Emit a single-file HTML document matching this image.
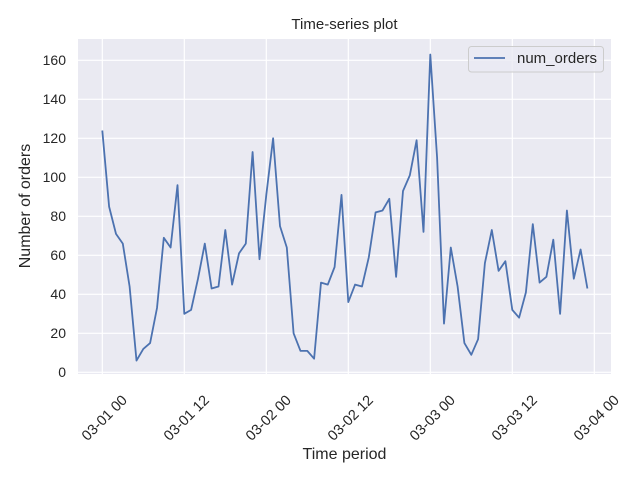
<!DOCTYPE html>
<html><head><meta charset="utf-8"><style>body{margin:0;background:#fff}svg{display:block}text{font-family:"Liberation Sans",sans-serif;fill:#262626}</style></head>
<body>
<svg width="640" height="480" viewBox="0 0 640 480" xmlns="http://www.w3.org/2000/svg">
<rect x="78" y="39" width="533" height="335" fill="#eaeaf2"/>
<g stroke="#fff" stroke-width="1.2">
<line x1="78" x2="611" y1="372.3" y2="372.3"/><line x1="78" x2="611" y1="333.3" y2="333.3"/><line x1="78" x2="611" y1="294.3" y2="294.3"/><line x1="78" x2="611" y1="255.3" y2="255.3"/><line x1="78" x2="611" y1="216.3" y2="216.3"/><line x1="78" x2="611" y1="177.3" y2="177.3"/><line x1="78" x2="611" y1="138.3" y2="138.3"/><line x1="78" x2="611" y1="99.3" y2="99.3"/><line x1="78" x2="611" y1="60.3" y2="60.3"/>
<line y1="39" y2="374" x1="102.3" x2="102.3"/><line y1="39" y2="374" x1="184.3" x2="184.3"/><line y1="39" y2="374" x1="266.3" x2="266.3"/><line y1="39" y2="374" x1="348.3" x2="348.3"/><line y1="39" y2="374" x1="430.3" x2="430.3"/><line y1="39" y2="374" x1="512.3" x2="512.3"/><line y1="39" y2="374" x1="594.3" x2="594.3"/>
</g>
<g font-size="14" text-anchor="end">
<text x="66" y="377">0</text><text x="66" y="338">20</text><text x="66" y="299">40</text><text x="66" y="260">60</text><text x="66" y="221">80</text><text x="66" y="182">100</text><text x="66" y="143">120</text><text x="66" y="104">140</text><text x="66" y="65">160</text>
</g>
<g font-size="14.5" text-anchor="end">
<text transform="translate(128,401) rotate(-45)">03-01 00</text>
<text transform="translate(210,401) rotate(-45)">03-01 12</text>
<text transform="translate(292,401) rotate(-45)">03-02 00</text>
<text transform="translate(374,401) rotate(-45)">03-02 12</text>
<text transform="translate(456,401) rotate(-45)">03-03 00</text>
<text transform="translate(538,401) rotate(-45)">03-03 12</text>
<text transform="translate(620,401) rotate(-45)">03-04 00</text>
</g>
<text x="344.5" y="29" font-size="15" text-anchor="middle">Time-series plot</text>
<text x="344.5" y="459" font-size="16" text-anchor="middle">Time period</text>
<text transform="translate(30,206) rotate(-90)" font-size="16" text-anchor="middle">Number of orders</text>
<polyline id="p" fill="none" stroke="#4c72b0" stroke-width="1.8" stroke-linejoin="round" points=""/>
<rect x="468.5" y="46.5" width="135" height="25.5" rx="3" fill="#eaeaf2" stroke="#cccccc" fill-opacity="0.8"/>
<line x1="474" x2="505" y1="58" y2="58" stroke="#4c72b0" stroke-width="1.8"/>
<text x="517" y="63" font-size="15">num_orders</text>
<script>
var d=[124,85,71,66,44,6,12,15,33,69,64,96,30,32,48,66,43,44,73,45,61,66,113,58,91,120,75,64,20,11,11,7,46,45,54,91,36,45,44,59,82,83,89,49,93,101,119,72,163,110,25,64,44,15,9,17,56,73,52,57,32,28,41,76,46,49,68,30,83,48,63,43];
document.getElementById('p').setAttribute('points',d.map(function(v,i){return (102.3+6.833*i).toFixed(1)+','+(372.3-1.95*v).toFixed(1)}).join(' '));
</script>
</svg>
</body></html>
